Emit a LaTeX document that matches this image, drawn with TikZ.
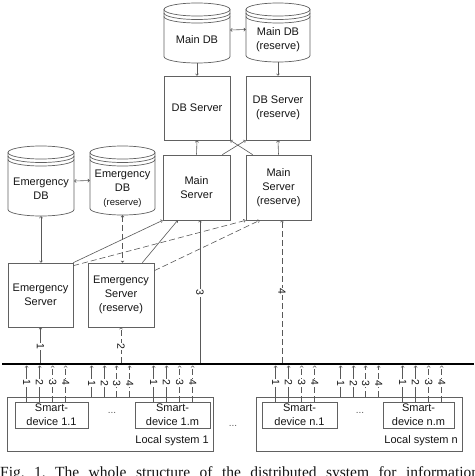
\documentclass[tikz,border=0pt]{standalone}
\usepackage{fontspec}
\setmainfont{Liberation Sans}
\newfontfamily\capfont{Liberation Serif}
\usetikzlibrary{arrows.meta,calc}
\definecolor{boxc}{gray}{0.38}
\definecolor{linec}{gray}{0.35}
\definecolor{txt}{gray}{0.08}
\def\ry{6.5}
\def\dd{3.5}
\newcommand\dbcyl[5]{%
  \node[cylnode, minimum width={#4-#2}, minimum height={#5-#3}] (#1) at ({(#2+#4)/2},{(#3+#5)/2}) {};
  \draw[boxline] (#2,#3+\ry) -- (#2,#5-\ry) arc[start angle=180,end angle=0,x radius={(#4-#2)/2},y radius=\ry] -- (#4,#3+\ry);
  \draw[boxline] ({(#2+#4)/2},#3+\ry) ellipse[x radius={(#4-#2)/2},y radius=\ry];
  \draw[boxline] (#2,#3+\ry+\dd) arc[start angle=180,end angle=0,x radius={(#4-#2)/2},y radius=\ry];
  \draw[boxline] (#2,#3+\ry+2*\dd) arc[start angle=180,end angle=0,x radius={(#4-#2)/2},y radius=\ry];
}
\begin{document}
\begin{tikzpicture}[x=1pt,y=-1pt,
  boxline/.style={draw=boxc, line width=0.7pt},
  box/.style={draw=boxc, line width=0.7pt, inner sep=0pt, font=\fontsize{11}{14}\selectfont, align=center, text=txt},
  cylnode/.style={inner sep=0pt, draw=none},
  lbl/.style={font=\fontsize{11}{14}\selectfont, align=center, text=txt, inner sep=0pt},
  small/.style={font=\fontsize{9.5}{12}\selectfont, text=txt, inner sep=0pt},
  con/.style={draw=linec, line width=0.6pt},
  arr/.style={con, -{To[length=2.2pt,width=3.6pt]}},
  darr/.style={con, {To[length=2.2pt,width=3.6pt]}-{To[length=2.2pt,width=3.6pt]}},
  dsh/.style={dash pattern=on 6pt off 3pt},
  sld/.style={},
  num/.style={font=\fontsize{10.5}{12}\selectfont, rotate=-90, fill=white, inner sep=0.8pt, text=txt},
  dots/.style={font=\fontsize{10}{12}\selectfont, text=linec, inner sep=0pt},
]
\useasboundingbox (0,0) rectangle (474,476);

% databases
\dbcyl{mdb}{164}{3}{230}{63}
\dbcyl{mdbr}{246}{3}{310}{62}
\dbcyl{edb}{8}{146}{74}{216}
\dbcyl{edbr}{90}{146}{155}{215}
\node[lbl] at (197,40) {Main DB};
\node[lbl] at (278,40) {Main DB\\(reserve)};
\node[lbl] at (41,188.5) {Emergency\\DB};
\node[lbl] at (122.5,181) {Emergency\\DB};
\node[small] at (122.5,203) {(reserve)};

% servers
\node[box, minimum width=66pt, minimum height=64pt] (dbs) at (197,108) {DB Server};
\node[box, minimum width=64pt, minimum height=64pt] (dbsr) at (278,108) {DB Server\\(reserve)};
\node[box, minimum width=67pt, minimum height=65pt] (ms) at (196.5,187.5) {Main\\Server};
\node[box, minimum width=65pt, minimum height=65pt] (msr) at (278.5,187.5) {Main\\Server\\(reserve)};
\node[box, minimum width=65pt, minimum height=64pt] (es) at (40.5,295) {Emergency\\Server};
\node[box, minimum width=66pt, minimum height=64pt] (esr) at (121,295) {Emergency\\Server\\(reserve)};

% bus
\node[fill=black, minimum width=472pt, minimum height=2.6pt, inner sep=0pt] (bus) at (238,364) {};

% local systems
\node[box, minimum width=206pt, minimum height=54pt] (ls1) at (110,424) {};
\node[box, minimum width=206pt, minimum height=54pt] (lsn) at (359,424) {};
\node[box, minimum width=73pt, minimum height=26pt] (d11) at (51.5,415) {Smart-\\device 1.1};
\node[box, minimum width=75pt, minimum height=26pt] (d1m) at (172.5,415) {Smart-\\device 1.m};
\node[box, minimum width=75pt, minimum height=26pt] (dn1) at (299.5,415) {Smart-\\device n.1};
\node[box, minimum width=71pt, minimum height=26pt] (dnm) at (418.5,415) {Smart-\\device n.m};
\node[lbl, anchor=east] at (209,441) {Local system 1};
\node[lbl, anchor=east] at (458,441) {Local system n};
\node[dots] at (112,413) {...};
\node[dots] at (360,413) {...};
\node[dots] at (233,426) {...};

% connectors top
\draw[arr] (mdb.south) -- (dbs.north);
\draw[arr] (mdbr.south) -- (dbsr.north);
\draw[darr] ([yshift=3pt]mdb.east) -- ([yshift=3pt]mdbr.west);
\draw[arr] (ms.north) -- (dbs.south);
\draw[arr] (msr.north) -- (dbsr.south);
\draw[arr] ([xshift=-8pt]ms.north east) -- (dbsr.south west);
\draw[arr] ([xshift=7pt]msr.north west) -- (dbs.south east);

% emergency
\draw[darr] (edb.east) -- (edbr.west);
\draw[darr] (edb.south) -- (edb.south |- es.north);
\draw[darr, dsh] (edbr.south) -- (edbr.south |- esr.north);
\draw[arr] (es.north east) -- (ms.south west);
\draw[arr] ([xshift=-12pt]esr.north east) -- ([xshift=15pt]ms.south west);
\draw[arr, dsh] ([yshift=-3pt]es.north east) -- (msr.south west);
\draw[arr, dsh] ([yshift=-8pt]esr.north east) -- ([xshift=14pt]msr.south west);

% bus to servers
\draw[arr] (es.south |- bus.north) -- (es.south) node[num, pos=0.46] {1};
\draw[arr, dsh] (esr.south |- bus.north) -- (esr.south) node[num, pos=0.46] {2};
\coordinate (m3) at ($(ms.south)+(3.5,0)$);
\coordinate (m4) at ($(msr.south)+(3.5,0)$);
\draw[arr] (m3 |- bus.north) -- (m3) node[num, pos=0.49] {3};
\draw[arr, dsh] (m4 |- bus.north) -- (m4) node[num, pos=0.5] {4};

% devices to bus
\foreach \nd/\st in {d11/12, d1m/19, dn1/14, dnm/20} {
  \foreach \k/\s [count=\i] in {0/sld, 13/sld, 26/dsh, 39/dsh} {
    \coordinate (s) at ($(\nd.north west)+(\st+\k,0)$);
    \draw[arr, \s] (s) -- (s |- bus.south) node[num, pos=0.52] {\i};
  }
}
\foreach \nd in {ls1, lsn} {
  \foreach \k/\s [count=\i] in {85/sld, 98/sld, 110/dsh, 123/dsh} {
    \coordinate (s) at ($(\nd.north west)+(\k,0)$);
    \draw[arr, \s] (s) -- (s |- bus.south) node[num, pos=0.44] {\i};
  }
}

% caption (cut by the picture's edges, as in the reference)
\node[anchor=base west, inner sep=0pt, font=\capfont\fontsize{15.5}{17}\selectfont, text=txt] (cap) at (0,477.5) {\frenchspacing\makebox[479pt][s]{Fig. 1. The whole structure of the distributed system for information}};
\end{tikzpicture}
\end{document}
